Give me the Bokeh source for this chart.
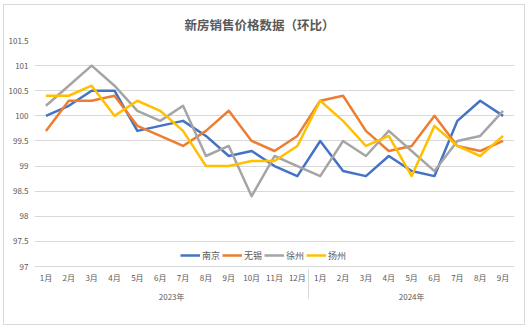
from bokeh.plotting import figure
from bokeh.models import (FactorRange, Range1d, Legend, LegendItem, NumeralTickFormatter,
                          FixedTicker, ColumnDataSource)
from bokeh.embed import file_html
from bokeh.resources import INLINE

title = "新房销售价格数据（环比）"
years = ["2023年"] * 12 + ["2024年"] * 9
months = ["1月", "2月", "3月", "4月", "5月", "6月", "7月", "8月", "9月", "10月", "11月", "12月",
          "1月", "2月", "3月", "4月", "5月", "6月", "7月", "8月", "9月"]
series_names = ["南京", "无锡", "徐州", "扬州"]
nanjing = [100.0, 100.2, 100.5, 100.5, 99.7, 99.8, 99.9, 99.6, 99.2, 99.3, 99.0, 98.8,
           99.5, 98.9, 98.8, 99.2, 98.9, 98.8, 99.9, 100.3, 100.0]
wuxi = [99.7, 100.3, 100.3, 100.4, 99.8, 99.6, 99.4, 99.7, 100.1, 99.5, 99.3, 99.6,
        100.3, 100.4, 99.7, 99.3, 99.4, 100.0, 99.4, 99.3, 99.5]
xuzhou = [100.2, 100.6, 101.0, 100.6, 100.1, 99.9, 100.2, 99.2, 99.4, 98.4, 99.2, 99.0,
          98.8, 99.5, 99.2, 99.7, 99.3, 98.9, 99.5, 99.6, 100.1]
yangzhou = [100.4, 100.4, 100.6, 100.0, 100.3, 100.1, 99.7, 99.0, 99.0, 99.1, 99.1, 99.4,
            100.3, 99.9, 99.4, 99.6, 98.8, 99.8, 99.4, 99.2, 99.6]
y_ticks = [97, 97.5, 98, 98.5, 99, 99.5, 100, 100.5, 101, 101.5]
colors = ["#4472C4", "#ED7D31", "#A5A5A5", "#FFC000"]

FONT = "Noto Sans CJK SC"
TXT = "#595959"
GRID = "#d9d9d9"

factors = list(zip(years, months))
src = ColumnDataSource(dict(x=factors, nanjing=nanjing, wuxi=wuxi, xuzhou=xuzhou, yangzhou=yangzhou))

p = figure(frame_width=480, frame_height=226,
           x_range=FactorRange(*factors, factor_padding=0, group_padding=0, subgroup_padding=0, range_padding=0),
           y_range=Range1d(97, 101.5),
           output_backend="svg", toolbar_location=None,
           min_border_left=30, min_border_right=10, min_border_top=34, min_border_bottom=58)
p.margin = (4, 0, 0, 3)
p.styles = {"border": "1px solid #d9d9d9"}
p.border_fill_color = "white"
p.background_fill_color = "white"
p.outline_line_color = None

p.title.text = title
p.title.align = "left"
p.title.text_font = FONT
p.title.text_font_size = "12.5px"
p.title.text_font_style = "bold"
p.title.text_color = TXT
p.title.offset = 150
p.title.standoff = 14

renderers = []
for key, c in zip(["nanjing", "wuxi", "xuzhou", "yangzhou"], colors):
    r = p.line(x="x", y=key, source=src, line_color=c, line_width=2.5, line_join="round")
    renderers.append(r)

# y axis
p.yaxis.ticker = FixedTicker(ticks=y_ticks)
p.yaxis.formatter = NumeralTickFormatter(format="0.[0]")
p.yaxis.axis_line_color = None
p.yaxis.major_tick_line_color = None
p.yaxis.minor_tick_line_color = None
p.yaxis.major_tick_out = 0
p.yaxis.major_label_text_font = FONT
p.yaxis.major_label_text_font_size = "8px"
p.yaxis.major_label_text_color = TXT
p.yaxis.major_label_standoff = 6

p.ygrid.grid_line_color = GRID
p.xgrid.grid_line_color = None

# x axis
xa = p.xaxis[0]
xa.axis_line_color = GRID
xa.major_tick_line_color = None
xa.minor_tick_line_color = None
xa.major_tick_out = 0
xa.major_label_text_font = FONT
xa.major_label_text_font_size = "8px"
xa.major_label_text_color = TXT
xa.major_label_standoff = 5
xa.group_text_font = FONT
xa.group_text_font_size = "8px"
xa.group_text_font_style = "normal"
xa.group_text_color = TXT
xa.separator_line_color = GRID
xa.separator_line_width = 1

# legend kept inside the plot frame (empty band between 97 and 97.5) so it is never cut off
items = [LegendItem(label=n, renderers=[r]) for n, r in zip(series_names, renderers)]
legend = Legend(items=items,
                orientation="horizontal", location=(146, 4),
                glyph_width=20, glyph_height=14, label_standoff=2, spacing=2, padding=0, margin=0,
                label_width=0, label_height=14,
                label_text_font=FONT, label_text_font_size="9px", label_text_color=TXT,
                border_line_color=None, background_fill_alpha=0)
p.add_layout(legend, "center")

open("out.html", "w").write(file_html(p, INLINE))
